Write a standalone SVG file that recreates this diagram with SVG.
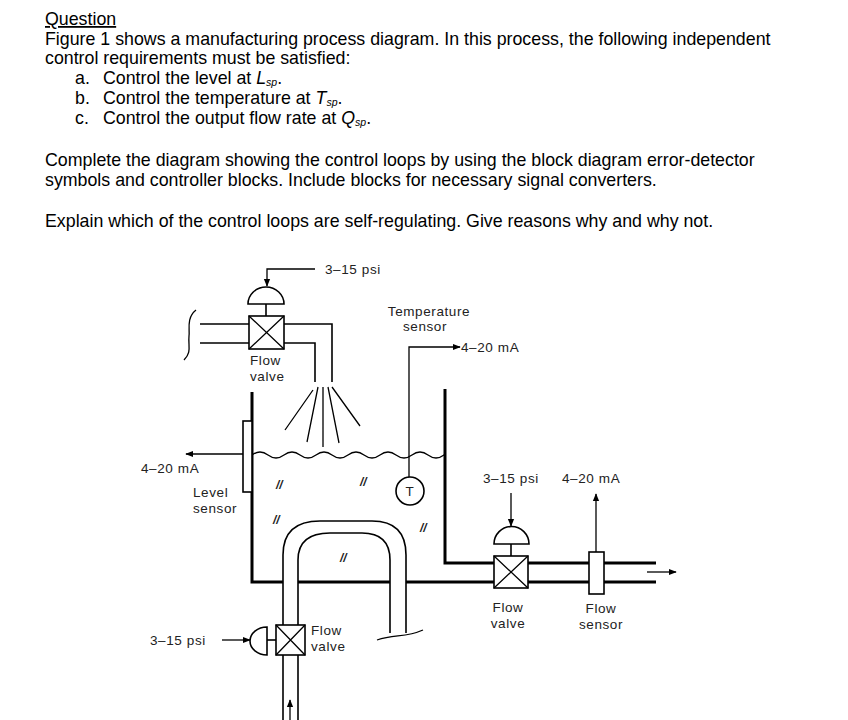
<svg xmlns="http://www.w3.org/2000/svg" width="848" height="720" viewBox="0 0 848 720">
<defs>
<marker id="ah" viewBox="0 0 10 10" refX="9" refY="5" markerWidth="8" markerHeight="8" markerUnits="userSpaceOnUse" orient="auto"><path d="M0,1 L10,5 L0,9 z" fill="#000"/></marker>
</defs>
<style>
.q{font-family:"Liberation Sans",Arial,sans-serif;font-size:17.8px;fill:#000}
.l{font-family:"Liberation Sans",Arial,sans-serif;font-size:13.5px;letter-spacing:0.6px;fill:#222}
.h{font-family:"Liberation Sans",Arial,sans-serif;font-size:12px;font-style:italic;font-weight:bold;fill:#222}
.p{fill:none;stroke:#000;stroke-width:1.6}
.t{fill:none;stroke:#000;stroke-width:3}
.s{fill:none;stroke:#000;stroke-width:1.3}
.a{fill:none;stroke:#000;stroke-width:1.3;marker-end:url(#ah)}
.b{fill:#fff;stroke:#000;stroke-width:1.6}
</style>
<rect width="848" height="720" fill="#fff"/>
<g id="question">
<text class="q" x="45" y="25" text-decoration="underline">Question</text>
<text class="q" x="45" y="45">Figure 1 shows a manufacturing process diagram. In this process, the following independent</text>
<text class="q" x="45" y="64">control requirements must be satisfied:</text>
<text class="q" x="75" y="84">a.</text><text class="q" x="103" y="84">Control the level at <tspan font-style="italic">L</tspan><tspan font-style="italic" font-size="10.5" dy="2">sp</tspan><tspan dy="-2">.</tspan></text>
<text class="q" x="75" y="104">b.</text><text class="q" x="103" y="104">Control the temperature at <tspan font-style="italic">T</tspan><tspan font-style="italic" font-size="10.5" dy="2">sp</tspan><tspan dy="-2">.</tspan></text>
<text class="q" x="75" y="124">c.</text><text class="q" x="103" y="124">Control the output flow rate at <tspan font-style="italic">Q</tspan><tspan font-style="italic" font-size="10.5" dy="2">sp</tspan><tspan dy="-2">.</tspan></text>
<text class="q" x="45" y="166">Complete the diagram showing the control loops by using the block diagram error-detector</text>
<text class="q" x="45" y="186">symbols and controller blocks. Include blocks for necessary signal converters.</text>
<text class="q" x="45" y="227">Explain which of the control loops are self-regulating. Give reasons why and why not.</text>
</g>
<g id="connectors">
<path class="a" d="M315,269 H267 V286"/>
<path class="a" d="M409,491 V347 H460"/>
<path class="a" d="M243,454 H186"/>
<path class="a" d="M222,640 H250"/>
<path class="a" d="M511,493 V526"/>
<path class="a" d="M596,552 V494"/>
<path class="a" d="M647,572 H676"/>
<path class="a" d="M290,720 V700"/>
</g>
<g id="inlet-pipe">
<path class="p" d="M200,324 H249 M200,343 H249 M284,324 H332 V382 M284,343 H315 V382"/>
<path class="s" d="M196,310 C186,318 190,330 189,336 C188,346 192,352 184,360"/>
<path class="s" d="M313,390 L285,430 M318,387 L307,442 M323,387 L323,447 M328,387 L339,443 M332,387 L360,426"/>
</g>
<g id="top-valve">
<path class="b" d="M248,304 A18,17 0 0 1 284,304 Z"/>
<line class="p" x1="266" y1="304" x2="266" y2="316"/>
<rect class="b" x="249" y="316" width="35" height="33"/>
<path class="s" d="M249,316 L284,349 M284,316 L249,349"/>
<text class="l" x="250" y="365">Flow</text><text class="l" x="250" y="381">valve</text>
</g>
<g id="tank">
<path class="t" d="M252,392 V582 H283 M298,582 H390 M406,582 H656 M445,389 V563 H656"/>
<path class="s" d="M252,455 q8,-6 16,0 t16,0 t16,0 t16,0 t16,0 t16,0 t16,0 t16,0 t16,0 t16,0 t16,0 t16,0 h1"/>
<text class="h" x="276" y="489">//</text><text class="h" x="360" y="486">//</text>
<text class="h" x="273" y="524">//</text><text class="h" x="340" y="562">//</text><text class="h" x="420" y="532">//</text>
</g>
<g id="coil">
<path class="p" d="M283,720 V555 Q283,521 320,521 H372 Q406,521 406,555 V633 M298,720 V560 Q298,533 330,533 H362 Q390,533 390,560 V633"/>
<path class="s" d="M377,640 C395,634 405,638 423,630"/>
</g>
<g id="level-sensor">
<rect class="b" x="243" y="421" width="9" height="71"/>
<text class="l" x="141" y="473">4–20 mA</text>
<text class="l" x="193" y="497">Level</text><text class="l" x="193" y="513">sensor</text>
</g>
<g id="temp-sensor">
<circle class="b" cx="410" cy="491" r="14"/>
<text class="l" x="410" y="496" text-anchor="middle" font-size="12">T</text>
<text class="l" x="429" y="316" text-anchor="middle">Temperature</text>
<text class="l" x="425" y="331" text-anchor="middle">sensor</text>
<text class="l" x="461" y="352">4–20 mA</text>
</g>
<g id="bottom-valve">
<path class="b" d="M267,627 A17,14 0 0 0 267,655 Z"/>
<line class="p" x1="267" y1="640" x2="290" y2="640"/>
<rect class="b" x="276" y="625" width="29" height="30"/>
<path class="s" d="M276,625 L305,655 M305,625 L276,655"/>
<text class="l" x="150" y="645">3–15 psi</text>
<text class="l" x="311" y="635">Flow</text><text class="l" x="311" y="651">valve</text>
</g>
<g id="outlet-valve">
<path class="b" d="M494,544 A17,17 0 0 1 529,544 Z"/>
<line class="p" x1="511" y1="544" x2="511" y2="556"/>
<rect class="b" x="494" y="556" width="34" height="32"/>
<path class="s" d="M494,556 L528,588 M528,556 L494,588"/>
<text class="l" x="483" y="483">3–15 psi</text>
<text class="l" x="508" y="612" text-anchor="middle">Flow</text><text class="l" x="508" y="628" text-anchor="middle">valve</text>
</g>
<g id="flow-sensor">
<rect class="b" x="589" y="552" width="15" height="42"/>
<text class="l" x="562" y="483">4–20 mA</text>
<text class="l" x="601" y="613" text-anchor="middle">Flow</text><text class="l" x="601" y="629" text-anchor="middle">sensor</text>
</g>
<text class="l" x="325" y="274">3–15 psi</text>
</svg>
